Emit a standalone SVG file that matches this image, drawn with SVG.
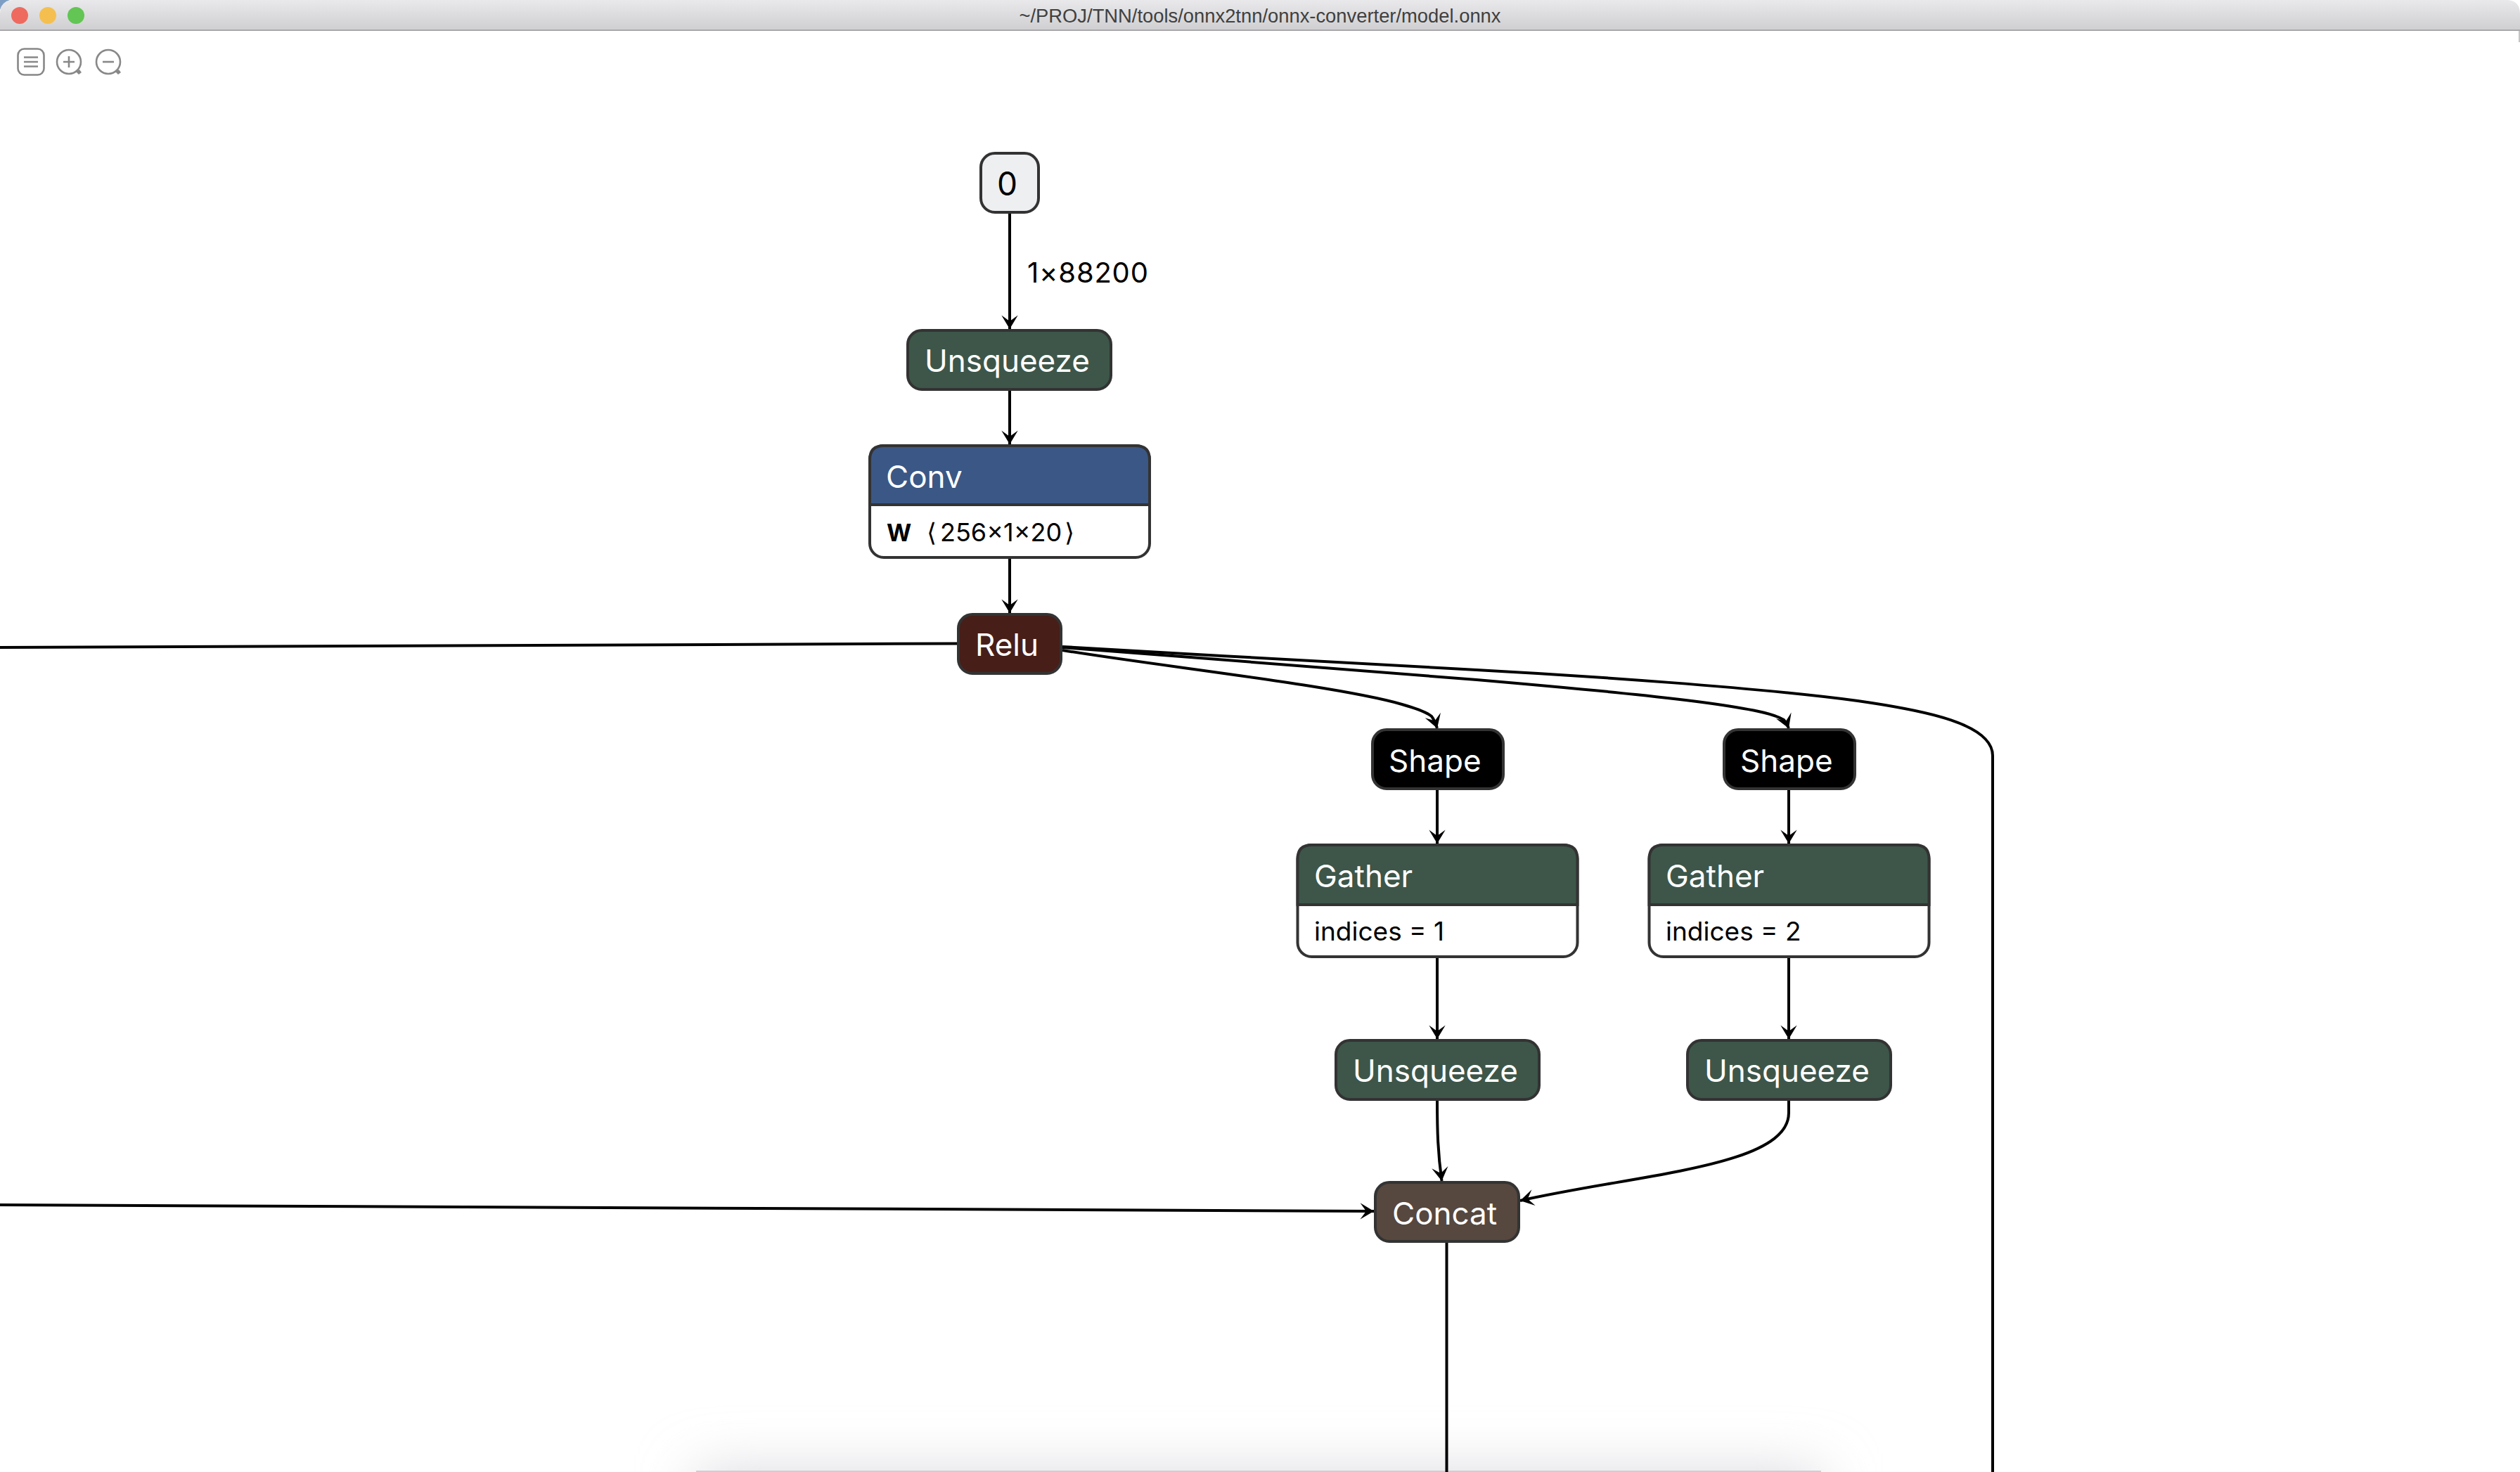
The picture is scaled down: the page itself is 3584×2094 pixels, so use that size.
<svg xmlns="http://www.w3.org/2000/svg" width="3584" height="2094" viewBox="0 0 3584 2094">
<style>
text{font-family:Inter,"Noto Sans","Liberation Sans",sans-serif;font-size:44px}
.w{fill:#fff}.k{fill:#000}
.n{stroke:#333;stroke-width:4}
.e{fill:none;stroke:#000;stroke-width:4}
.a{marker-end:url(#arrow)}
.i{fill:none;stroke:#888;stroke-width:2.6}
</style>
<defs>
<marker id="arrow" markerUnits="userSpaceOnUse" markerWidth="24" markerHeight="24" refX="22" refY="12" orient="auto" viewBox="0 0 24 24"><path d="M22 12L2.500 0.300L11 12L2.500 23.700Z" fill="#000"/></marker>
<linearGradient id="bar" x1="0" y1="0" x2="0" y2="1"><stop offset="0" stop-color="#e9e9eb"/><stop offset="1" stop-color="#cfcfd1"/></linearGradient>
<filter id="blur" x="-10%" y="-100%" width="120%" height="300%"><feGaussianBlur stdDeviation="40"/></filter>
</defs>
<rect width="3584" height="2094" fill="#fff"/>
<g id="window">
<path d="M0 20Q0 0 20 0H3564Q3584 0 3584 20V43H0Z" fill="url(#bar)"/>
<path d="M0 0H14Q3 3 0 14Z" fill="#7d9ec4"/>
<rect x="0" y="42" width="3584" height="2" fill="#a9a9ab"/>
<rect x="3582" y="44" width="2" height="16" fill="#c4c4c6"/>
<circle cx="28" cy="22" r="12" fill="#ee6a5f"/><circle cx="68" cy="22" r="12" fill="#f5bf4f"/><circle cx="108" cy="22" r="12" fill="#62c554"/>
<text x="1792" y="32" text-anchor="middle" fill="#404040" style="font-size:27px;font-family:'Liberation Sans',sans-serif" textLength="685" lengthAdjust="spacingAndGlyphs">~/PROJ/TNN/tools/onnx2tnn/onnx-converter/model.onnx</text>
</g>
<g id="toolbar">
<rect class="i" x="25.500" y="69.500" width="37" height="37" rx="9"/><path class="i" d="M34 81.500H54M34 88H54M34 94.500H54"/>
<circle class="i" cx="98" cy="88" r="17"/><path class="i" d="M98 80V96M90 88H106"/><path d="M108 102L113 99L116 103L112 106Z" fill="#888"/>
<circle class="i" cx="154" cy="88" r="17"/><path class="i" d="M146 88H162"/><path d="M164 102L169 99L172 103L168 106Z" fill="#888"/>
</g>
<g id="bottom-shadow">
<rect x="990" y="2094" width="1600" height="140" fill="#d9d9df" filter="url(#blur)"/>
<rect x="990" y="2092" width="1600" height="2" fill="#cfcfd2"/>
</g>
<g id="connectors">
<path class="e a" d="M1436 303V468"/>
<path class="e a" d="M1436 555V632"/>
<path class="e a" d="M1436 794V872"/>
<path class="e" d="M1361 915.500L0 921"/>
<path class="e a" d="M1511 925C1650 948 1900 975 1994 1002C2015 1008 2030 1014 2036 1019C2040 1024 2042 1030 2044 1036"/>
<path class="e a" d="M1511 921C1700 936 2000 958 2100 967C2250 980 2420 995 2501 1012C2520 1016 2530 1020 2537 1024C2540 1028 2542 1031 2544 1036"/>
<path class="e" d="M1511 920C1700 931 2000 948 2100 953C2250 961 2500 978 2642 997C2740 1011 2834 1030 2834 1075V2094"/>
<path class="e a" d="M2044 1123V1200"/>
<path class="e a" d="M2544 1123V1200"/>
<path class="e a" d="M2044 1362V1478"/>
<path class="e a" d="M2544 1362V1478"/>
<path class="e a" d="M2044 1565C2044 1610 2045 1640 2050.500 1680"/>
<path class="e a" d="M2544 1565V1583C2544 1660 2330 1670 2162 1708"/>
<path class="e a" d="M0 1714L1954 1723"/>
<path class="e" d="M2057.500 1767V2094"/>
</g>
<g id="node-0"><rect class="n" x="1395" y="218" width="82" height="84" rx="20" fill="#eeeff1"/><text class="k" x="1418" y="278" style="font-size:46px">0</text></g>
<text id="edge-label" class="k" x="1461" y="402" style="font-size:40px;letter-spacing:0.800px">1×88200</text>
<g id="node-unsqueeze-1"><rect class="n" x="1291" y="470" width="289" height="84" rx="20" fill="#3d5649"/><text class="w" x="1315" y="529">Unsqueeze</text></g>
<g id="node-conv"><rect class="n" x="1237" y="634" width="398" height="159" rx="20" fill="#fff"/><path d="M1237 718V654Q1237 634 1257 634H1615Q1635 634 1635 654V718Z" fill="#3b5785" class="n"/><text class="w" x="1260" y="694">Conv</text><text class="k" x="1261" y="770" style="font-size:34px;font-weight:700">W</text><text class="k" x="1318" y="770" style="font-size:36px">⟨<tspan dx="5">256×1×20</tspan><tspan dx="4">⟩</tspan></text></g>
<g id="node-relu"><rect class="n" x="1363" y="874" width="146" height="84" rx="20" fill="#481e18"/><text class="w" x="1387" y="933">Relu</text></g>
<g id="node-shape-1"><rect class="n" x="1952" y="1038" width="186" height="84" rx="20" fill="#000"/><text class="w" x="1975" y="1098">Shape</text></g>
<g id="node-shape-2"><rect class="n" x="2452" y="1038" width="186" height="84" rx="20" fill="#000"/><text class="w" x="2475" y="1098">Shape</text></g>
<g id="node-gather-1"><rect class="n" x="1845.500" y="1202" width="398" height="159" rx="20" fill="#fff"/><path class="n" d="M1845.500 1287V1222Q1845.500 1202 1865.500 1202H2223.500Q2243.500 1202 2243.500 1222V1287Z" fill="#3d5649"/><text class="w" x="1869" y="1262">Gather</text><text class="k" x="1869" y="1338" style="font-size:37px">indices = 1</text></g>
<g id="node-gather-2"><rect class="n" x="2345.500" y="1202" width="398" height="159" rx="20" fill="#fff"/><path class="n" d="M2345.500 1287V1222Q2345.500 1202 2365.500 1202H2723.500Q2743.500 1202 2743.500 1222V1287Z" fill="#3d5649"/><text class="w" x="2369" y="1262">Gather</text><text class="k" x="2369" y="1338" style="font-size:37px">indices = 2</text></g>
<g id="node-unsqueeze-2"><rect class="n" x="1900" y="1480" width="289" height="84" rx="20" fill="#3d5649"/><text class="w" x="1924" y="1539">Unsqueeze</text></g>
<g id="node-unsqueeze-3"><rect class="n" x="2400" y="1480" width="289" height="84" rx="20" fill="#3d5649"/><text class="w" x="2424" y="1539">Unsqueeze</text></g>
<g id="node-concat"><rect class="n" x="1956" y="1682" width="204" height="84" rx="20" fill="#56473f"/><text class="w" x="1980" y="1742">Concat</text></g>
</svg>
